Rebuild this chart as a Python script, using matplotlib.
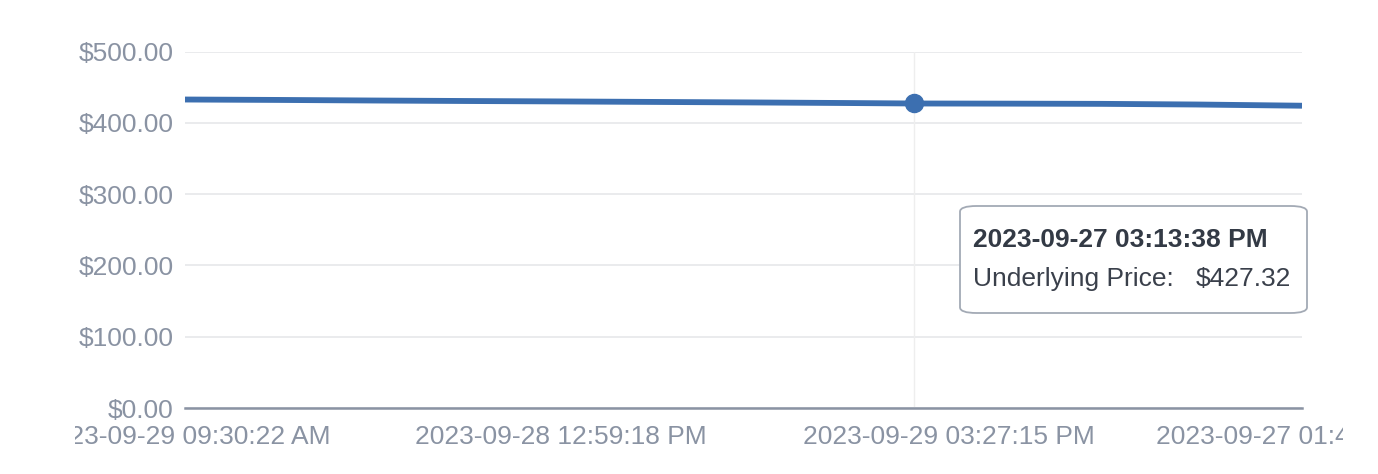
import matplotlib.pyplot as plt
from matplotlib.patches import FancyBboxPatch
from matplotlib.transforms import Bbox, TransformedBbox

plt.rcParams["font.family"] = ["Liberation Sans", "DejaVu Sans"]

# category axis: 96 points, values read at a subset of indices
n_points = 96
sample_idx = [0, 8, 16, 24, 32, 40, 48, 56, 62, 70, 78, 86, 95]
prices = [432.9, 432.3, 431.5, 430.8, 430.2, 429.5, 428.8, 428.0, 427.32,
          427.1, 426.8, 425.9, 424.2]

tick_idx = [0, 32, 65, 95]
tick_labels = ["2023-09-29 09:30:22 AM", "2023-09-28 12:59:18 PM",
               "2023-09-29 03:27:15 PM", "2023-09-27 01:45:00 PM"]
y_ticks = [0, 100, 200, 300, 400, 500]

hover_idx = 62
hover_time = "2023-09-27 03:13:38 PM"
series_name = "Underlying Price"

BLUE = "#3c6fb0"
GRAY = "#8a93a3"

W, H = 1378, 474
fig = plt.figure(figsize=(W / 100, H / 100), dpi=100)
ax = fig.add_axes([185 / W, 1 - 408 / H, (1302 - 185) / W, (408 - 51.7) / H])

ax.plot(sample_idx, prices, color=BLUE, lw=4.2, solid_capstyle="butt", zorder=3)
ax.axvline(hover_idx, color="#eeeeee", lw=1, zorder=2)
hv = prices[sample_idx.index(hover_idx)]
ax.plot([hover_idx], [hv], "o", color=BLUE, ms=13, zorder=4)

ax.set_xlim(0, n_points - 1)
ax.set_ylim(0, 500)
ax.set_yticks(y_ticks)
ax.set_yticklabels([f"${v:,.2f}" for v in y_ticks])
ax.set_xticks(tick_idx)
ax.set_xticklabels(tick_labels)
ax.grid(axis="y", color="#e6e7ea", lw=1.2)
ax.set_axisbelow(True)
ax.tick_params(axis="both", length=0, labelsize=19, colors=GRAY)
ax.tick_params(axis="y", pad=8)
ax.tick_params(axis="x", pad=12)
for s in ["top", "right", "left"]:
    ax.spines[s].set_visible(False)
ax.spines["bottom"].set_color(GRAY)
ax.spines["bottom"].set_linewidth(1.8)

# the chart area clips the outer x labels
clip = TransformedBbox(Bbox([[75 / W, 0], [1343 / W, 1]]), fig.transFigure)
for lbl in ax.get_xticklabels():
    lbl.set_clip_box(clip)
    lbl.set_clip_on(True)

# tooltip
box = FancyBboxPatch((960 / W, 1 - 313 / H), (1307 - 960) / W, (313 - 206) / H,
                     boxstyle="round,pad=0,rounding_size=0.012",
                     transform=fig.transFigure, facecolor="white",
                     edgecolor="#a3aab5", lw=1.3, zorder=10)
fig.add_artist(box)
fig.text(973 / W, 1 - 240 / H, hover_time, fontsize=19, fontweight="bold",
         color="#333a45", va="center", zorder=11)
fig.text(973 / W, 1 - 279 / H, f"{series_name}:", fontsize=19,
         color="#3a404b", va="center", zorder=11)
fig.text(1291 / W, 1 - 279 / H, f"${hv:.2f}", fontsize=19,
         color="#3a404b", va="center", ha="right", zorder=11)

fig.savefig("out.png", dpi=100)
